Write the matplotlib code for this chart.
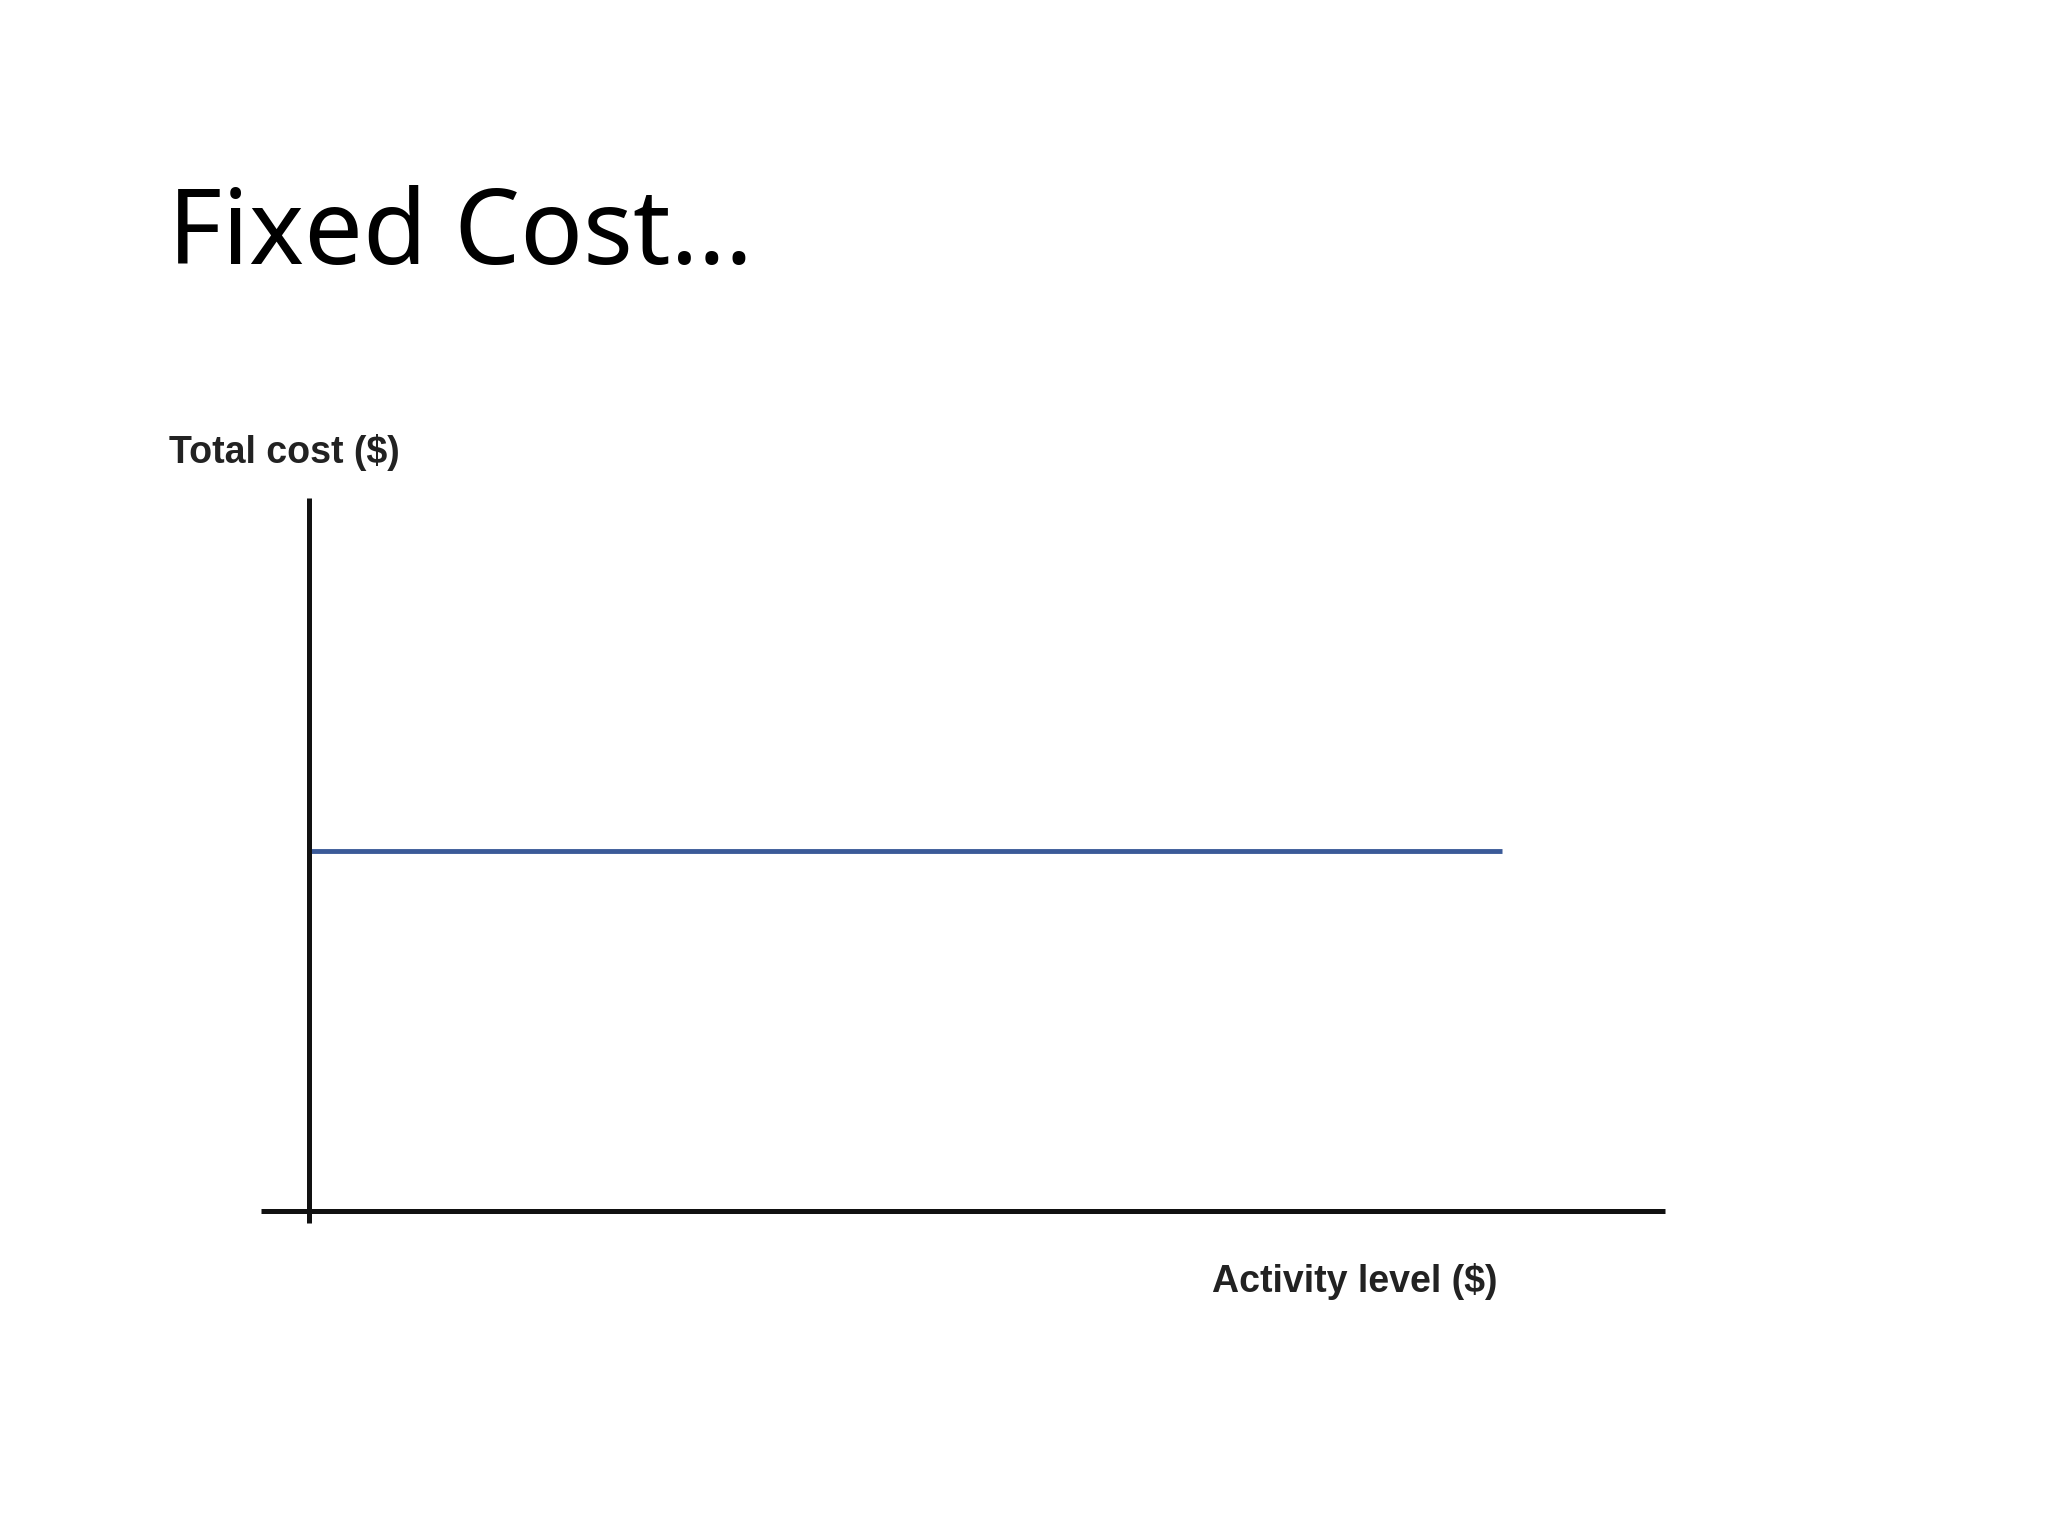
import matplotlib
matplotlib.use("Agg")
import matplotlib.pyplot as plt

# fixed cost stays flat whatever the activity level
activity = [0, 10]
fixed_cost = [5, 5]

title = "Fixed Cost…"
ylabel = "Total cost ($)"
xlabel = "Activity level ($)"

W, H = 2048, 1536
fig = plt.figure(figsize=(W / 100, H / 100), dpi=100)
fig.patch.set_facecolor("white")

# axes box in pixels: left 261, right 1665, top 498, bottom 1223
ax = fig.add_axes([261 / W, 1 - 1223 / H, 1404 / W, 725 / H])
ax.set_xlim(-0.402, 11.366)
ax.set_ylim(-0.167, 9.903)

ax.plot(activity, fixed_cost, color="#3b5a98", lw=3.5, solid_capstyle="butt")

for side in ["top", "right"]:
    ax.spines[side].set_visible(False)
ax.spines["left"].set_position(("data", 0))
ax.spines["bottom"].set_position(("data", 0))
ax.spines["left"].set_bounds(-0.167, 9.903)
ax.spines["bottom"].set_bounds(-0.402, 11.366)
for side in ["left", "bottom"]:
    ax.spines[side].set_linewidth(3.6)
    ax.spines[side].set_color("#111111")
    ax.spines[side].set_capstyle("butt")
ax.set_xticks([])
ax.set_yticks([])
ax.patch.set_alpha(0)

fig.text(168 / W, 1 - 264 / H, title, fontsize=75, family="Noto Sans",
         fontweight="light", va="baseline", ha="left", color="black")
fig.text(169 / W, 1 - 463 / H, ylabel, fontsize=27, family="Liberation Sans",
         fontweight="bold", va="baseline", ha="left", color="#222222")
fig.text(1212 / W, 1 - 1292 / H, xlabel, fontsize=27, family="Liberation Sans",
         fontweight="bold", va="baseline", ha="left", color="#222222")

fig.savefig("out.png", dpi=100)
